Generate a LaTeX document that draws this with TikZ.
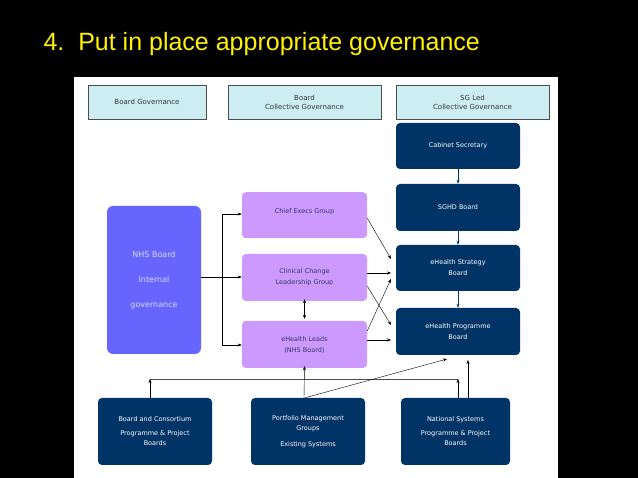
\documentclass[tikz,border=0pt]{standalone}
\usepackage{fontspec}
\setmainfont{DejaVu Sans}
\newfontfamily\titlefont{Liberation Sans}
\usetikzlibrary{arrows.meta}
\definecolor{navy}{HTML}{003366}
\definecolor{lilac}{HTML}{CC99FF}
\definecolor{bluev}{HTML}{6666FF}
\definecolor{hdr}{HTML}{CCEEF2}
\definecolor{ptxt}{HTML}{333366}
\begin{document}
\begin{tikzpicture}[x=1pt,y=-1pt,
  box/.style={rounded corners=4pt,inner sep=0pt,align=center,font=\fontsize{6.5}{11}\selectfont},
  hbox/.style={draw=black!70,fill=hdr,inner sep=0pt,align=center,font=\fontsize{7}{9}\selectfont,text=black!80},
  nv/.style={box,fill=navy,text=white},
  pl/.style={box,fill=lilac,text=ptxt},
  ar/.style={-{Stealth[length=4pt,width=3pt]},black,thin},
  nar/.style={-{Stealth[length=4pt,width=3pt]},navy,line width=1pt}]
\useasboundingbox (0,0) rectangle (638,478);
\fill[black] (0,0) rectangle (638,478);
\fill[white] (74,77) rectangle (558,478);
\node[text=yellow,font=\titlefont\fontsize{25}{28}\selectfont,anchor=west] (title) at (40,44) {4.\ \ Put in place appropriate governance};
\node[hbox,minimum width=118,minimum height=34] (h1) at (147,102) {Board Governance};
\node[hbox,minimum width=153,minimum height=34] (h2) at (304.5,102) {Board\\Collective Governance};
\node[hbox,minimum width=153,minimum height=34] (h3) at (472.5,102) {SG Led\\Collective Governance};
\node[nv,minimum width=124,minimum height=46] (cab) at (458,146) {Cabinet Secretary};
\node[nv,minimum width=124,minimum height=47] (sghd) at (458,207.5) {SGHD Board};
\node[nv,minimum width=124,minimum height=46] (strat) at (458,268) {eHealth Strategy\\Board};
\node[nv,minimum width=124,minimum height=47] (prog) at (458,331.5) {eHealth Programme\\Board};
\node[pl,minimum width=125,minimum height=46,anchor=north] (chief) at (304.5,192) {\raisebox{9pt}{Chief Execs Group}};
\node[pl,minimum width=125,minimum height=47] (clin) at (304.5,277.5) {Clinical Change\\Leadership Group};
\node[pl,minimum width=125,minimum height=47] (leads) at (304.5,344.5) {eHealth Leads\\(NHS Board)};
\node[box,fill=bluev,text=white!85!blue,minimum width=94,minimum height=148,rounded corners=6pt,font=\fontsize{8}{25}\selectfont] (nhs) at (154,280) {NHS Board\\Internal\\governance};
\node[nv,minimum width=114,minimum height=67,font=\fontsize{6.5}{10.5}\selectfont] (bc) at (155,431.5) {Board and Consortium\\[3pt]Programme \& Project\\Boards};
\node[nv,minimum width=114,minimum height=67,font=\fontsize{6.5}{10}\selectfont] (pm) at (308,431.5) {Portfolio Management\\Groups\\[6pt]Existing Systems};
\node[nv,minimum width=109,minimum height=67,font=\fontsize{6.5}{10.5}\selectfont] (ns) at (455.5,431.5) {National Systems\\[3pt]Programme \& Project\\Boards};
% navy arrows
\draw[nar] (cab) -- (sghd);
\draw[nar] (sghd) -- (strat);
\draw[nar] (strat) -- (prog);
% NHS fan-out
\coordinate (sp) at (222,277);
\draw[black,thin] (nhs.east |- sp) -- (sp);
\draw[ar] (222,214) |- (chief.west |- 0,214);
\draw[black,thin] (222,214) -- (222,345);
\draw[ar] (sp) -- (clin.west |- sp);
\draw[ar] (222,345) -- (leads.west |- 0,345);
% cross arrows
\draw[ar] (chief.east |- 0,218) -- (391,259);
\draw[ar] (clin.east |- 0,273) -- (391,273);
\draw[ar] (clin.east |- 0,286) -- (391,325);
\draw[ar] (leads.east |- 0,331) -- (391,279);
\draw[ar] (leads.east |- 0,340) -- (391,340);
\draw[{Stealth[length=4pt,width=3pt]}-{Stealth[length=4pt,width=3pt]},black,thin] (leads.north) ++(0,-2) -- ([yshift=2pt]clin.south);
% bottom
\draw[black!70,thin] (150,379) -- (458,379);
\draw[ar] (bc.north -| 150,0) -- (150,379);
\draw[ar] (ns.north -| 458,0) -- (458,379);
\draw[ar] (pm.north -| 304,0) -- ([yshift=2pt]leads.south);
\draw[ar] (pm.north -| 305,0) -- (447,359);
\draw[ar] (ns.north -| 468,0) -- (468,360);
\end{tikzpicture}
\end{document}
